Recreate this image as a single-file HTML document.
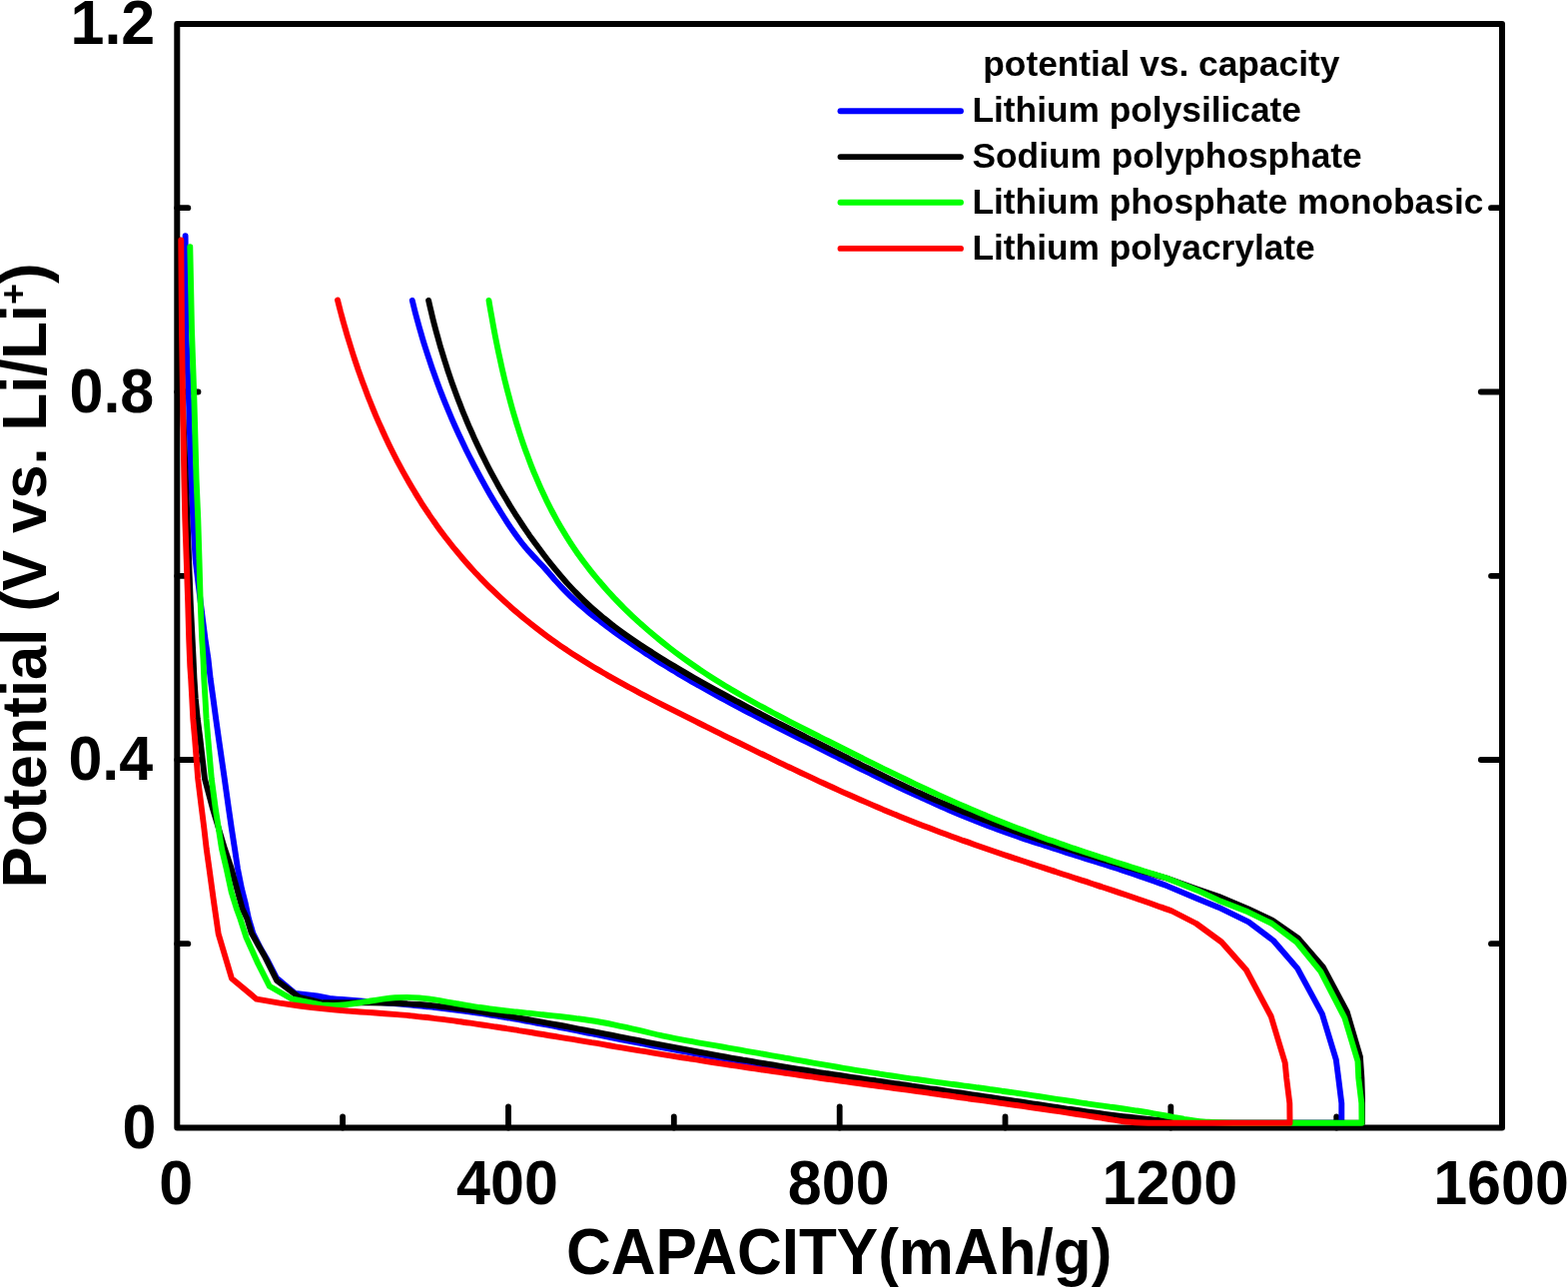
<!DOCTYPE html>
<html><head><meta charset="utf-8"><title>Potential vs capacity</title>
<style>
html,body{margin:0;padding:0;background:#fff;}
body{width:1570px;height:1290px;overflow:hidden;}
svg{display:block;}
text{font-family:"Liberation Sans",sans-serif;font-weight:bold;fill:#000;}
.tk{font-size:61px;}
.ti{font-size:62px;}
.lg{font-size:35.3px;}
</style></head>
<body>
<svg width="1570" height="1290" viewBox="0 0 1570 1290">
<rect x="0" y="0" width="1570" height="1290" fill="#fff"/>
<g stroke="#000" stroke-width="5.8" stroke-linecap="round"><line x1="509.0" y1="1129.5" x2="509.0" y2="1108.3"/><line x1="840.7" y1="1129.5" x2="840.7" y2="1108.3"/><line x1="1172.3" y1="1129.5" x2="1172.3" y2="1108.3"/><line x1="343.1" y1="1129.5" x2="343.1" y2="1118.5"/><line x1="674.8" y1="1129.5" x2="674.8" y2="1118.5"/><line x1="1006.5" y1="1129.5" x2="1006.5" y2="1118.5"/><line x1="1338.2" y1="1129.5" x2="1338.2" y2="1118.5"/><line x1="177.3" y1="761.0" x2="198.5" y2="761.0"/><line x1="1504.0" y1="761.0" x2="1482.8" y2="761.0"/><line x1="177.3" y1="392.5" x2="198.5" y2="392.5"/><line x1="1504.0" y1="392.5" x2="1482.8" y2="392.5"/><line x1="177.3" y1="945.2" x2="188.3" y2="945.2"/><line x1="1504.0" y1="945.2" x2="1493.0" y2="945.2"/><line x1="177.3" y1="576.8" x2="188.3" y2="576.8"/><line x1="1504.0" y1="576.8" x2="1493.0" y2="576.8"/><line x1="177.3" y1="208.2" x2="188.3" y2="208.2"/><line x1="1504.0" y1="208.2" x2="1493.0" y2="208.2"/></g>
<rect x="177.3" y="24.0" width="1326.7" height="1105.5" fill="none" stroke="#000" stroke-width="6" stroke-linejoin="round"/>
<g fill="none" stroke-width="5.9" stroke-linejoin="round" stroke-linecap="round">
<path d="M185.6,236.3 L186.3,330.0 L189.0,400.0 L191.3,480.0 L193.3,520.0 L195.6,560.0 L200.9,604.0 L205.5,640.0 L208.5,660.0 L210.7,680.0 L213.5,700.0 L216.2,720.0 L219.0,740.0 L224.8,780.0 L229.0,810.0 L231.9,830.0 L235.0,850.0 L238.0,870.0 L242.0,890.0 L245.8,905.0 L249.0,920.0 L253.5,935.0 L261.0,950.0 L268.0,962.0 L277.0,979.5 L295.5,995.0 L317.3,997.5 L330.0,1000.0 C330.0,1000.0 338.2,1000.7 342.2,1001.0 C346.3,1001.3 350.4,1001.7 354.5,1002.0 C358.5,1002.3 362.6,1002.6 366.7,1002.9 C370.7,1003.2 374.9,1003.5 378.9,1003.9 C383.0,1004.2 387.1,1004.5 391.1,1004.8 C395.2,1005.2 399.3,1005.5 403.4,1005.9 C407.4,1006.2 411.5,1006.6 415.6,1007.0 C419.6,1007.3 423.8,1007.7 427.8,1008.2 C431.8,1008.6 435.9,1009.0 440.0,1009.5 C444.0,1010.0 448.1,1010.5 452.1,1011.0 C456.1,1011.5 460.3,1012.0 464.3,1012.6 C468.3,1013.1 472.4,1013.7 476.4,1014.3 C480.4,1014.9 484.5,1015.5 488.5,1016.1 C492.5,1016.8 496.6,1017.4 500.6,1018.1 C504.6,1018.7 508.7,1019.4 512.7,1020.1 C516.7,1020.8 520.8,1021.5 524.8,1022.3 C528.8,1023.0 532.9,1023.7 536.8,1024.5 C540.8,1025.2 544.9,1026.0 548.9,1026.7 C552.9,1027.5 557.0,1028.3 560.9,1029.0 C564.9,1029.8 569.0,1030.6 573.0,1031.4 C577.0,1032.2 581.1,1033.0 585.0,1033.8 C589.0,1034.5 593.1,1035.4 597.1,1036.2 C601.1,1037.0 605.1,1037.8 609.1,1038.6 C613.1,1039.4 617.2,1040.2 621.2,1041.0 C625.1,1041.8 629.2,1042.6 633.2,1043.4 C637.2,1044.2 641.3,1045.0 645.3,1045.7 C649.2,1046.5 653.3,1047.3 657.3,1048.1 C661.3,1048.8 665.4,1049.6 669.4,1050.4 C673.4,1051.1 677.5,1051.9 681.4,1052.6 C685.4,1053.3 689.5,1054.1 693.5,1054.8 C697.5,1055.5 701.6,1056.3 705.6,1057.0 C709.6,1057.7 713.7,1058.4 717.7,1059.1 C721.7,1059.8 725.8,1060.5 729.8,1061.2 C733.8,1061.8 737.9,1062.5 741.9,1063.2 C745.9,1063.9 750.0,1064.5 754.0,1065.2 C758.0,1065.9 762.1,1066.5 766.1,1067.2 C770.1,1067.8 774.2,1068.5 778.2,1069.1 C782.2,1069.8 786.3,1070.4 790.3,1071.1 C794.3,1071.7 798.4,1072.3 802.4,1073.0 C806.4,1073.6 810.6,1074.2 814.6,1074.8 C818.6,1075.4 822.7,1076.1 826.7,1076.7 C830.7,1077.3 834.8,1077.9 838.8,1078.5 C842.8,1079.1 846.9,1079.8 850.9,1080.4 C855.0,1081.0 859.1,1081.6 863.1,1082.2 C867.1,1082.8 871.2,1083.4 875.2,1084.0 C879.2,1084.6 883.4,1085.2 887.4,1085.8 C891.4,1086.3 895.5,1086.9 899.5,1087.5 C903.5,1088.1 907.6,1088.7 911.6,1089.3 C915.6,1089.9 919.8,1090.5 923.8,1091.1 C927.8,1091.7 931.9,1092.3 935.9,1092.9 C939.9,1093.5 944.1,1094.1 948.1,1094.7 C952.1,1095.2 956.2,1095.9 960.2,1096.4 C964.2,1097.0 968.4,1097.6 972.4,1098.2 C976.4,1098.8 980.5,1099.4 984.5,1100.0 C988.5,1100.6 992.6,1101.2 996.6,1101.8 C1000.7,1102.4 1004.8,1103.0 1008.8,1103.6 C1012.8,1104.2 1016.9,1104.8 1020.9,1105.4 C1024.9,1106.0 1029.1,1106.6 1033.1,1107.2 C1037.1,1107.8 1041.2,1108.4 1045.2,1108.9 C1049.2,1109.5 1053.4,1110.1 1057.4,1110.6 C1061.4,1111.2 1065.5,1111.8 1069.5,1112.3 C1073.6,1112.8 1077.7,1113.4 1081.7,1113.9 C1085.7,1114.5 1089.9,1115.0 1093.9,1115.5 C1097.9,1116.0 1102.0,1116.5 1106.0,1117.0 C1110.1,1117.5 1114.2,1118.0 1118.2,1118.5 C1122.2,1118.9 1126.4,1119.4 1130.4,1119.8 C1134.4,1120.3 1138.6,1120.7 1142.6,1121.2 C1146.6,1121.6 1150.8,1122.0 1154.8,1122.4 C1158.8,1122.8 1163.0,1123.2 1167.0,1123.5 C1174.6,1124.0 1190.0,1124.8 1190.0,1124.8 L1343.3,1124.8 L1343.3,1105.0 L1340.2,1080.0 L1337.8,1061.4 L1323.9,1015.7 L1299.1,969.9 L1275.0,942.0 L1250.2,923.4 L1220.0,908.7 L1198.7,900.1 L1168.1,887.1 C1168.1,887.1 1160.5,884.3 1156.8,882.9 C1153.0,881.6 1149.1,880.2 1145.3,878.9 C1141.5,877.6 1137.6,876.3 1133.9,875.0 C1130.1,873.7 1126.1,872.4 1122.3,871.2 C1118.5,869.9 1114.6,868.7 1110.8,867.4 C1106.9,866.2 1103.0,865.0 1099.2,863.7 C1095.3,862.5 1091.4,861.3 1087.5,860.1 C1083.7,858.9 1079.7,857.6 1075.9,856.4 C1072.1,855.2 1068.1,854.0 1064.3,852.7 C1060.4,851.5 1056.5,850.3 1052.7,849.0 C1048.8,847.8 1044.9,846.5 1041.1,845.3 C1037.3,844.0 1033.3,842.7 1029.5,841.4 C1025.7,840.2 1021.8,838.8 1018.0,837.5 C1014.2,836.2 1010.3,834.8 1006.5,833.5 C1002.8,832.1 998.9,830.7 995.1,829.3 C991.4,827.9 987.5,826.4 983.8,825.0 C980.1,823.5 976.2,822.0 972.5,820.5 C968.8,819.0 965.0,817.4 961.3,815.9 C957.6,814.4 953.8,812.8 950.1,811.2 C946.5,809.6 942.7,808.0 939.0,806.4 C935.4,804.7 931.6,803.1 928.0,801.4 C924.3,799.8 920.6,798.1 916.9,796.4 C913.3,794.7 909.6,793.0 905.9,791.3 C902.3,789.6 898.6,787.9 895.0,786.1 C891.4,784.4 887.6,782.6 884.0,780.9 C880.4,779.2 876.7,777.4 873.1,775.6 C869.5,773.9 865.8,772.0 862.2,770.3 C858.6,768.5 854.9,766.7 851.3,764.9 C847.7,763.1 844.0,761.3 840.4,759.5 C836.8,757.7 833.1,755.9 829.6,754.1 C826.0,752.3 822.3,750.5 818.7,748.7 C815.1,746.9 811.4,745.0 807.8,743.2 C804.2,741.4 800.5,739.6 796.9,737.8 C793.3,736.0 789.6,734.1 786.0,732.3 C782.4,730.5 778.7,728.6 775.1,726.8 C771.6,725.0 767.9,723.1 764.3,721.3 C760.7,719.5 757.0,717.6 753.5,715.7 C749.9,713.9 746.2,711.9 742.7,710.1 C739.1,708.2 735.5,706.3 731.9,704.4 C728.4,702.5 724.7,700.5 721.2,698.6 C717.7,696.7 714.1,694.7 710.6,692.7 C707.1,690.8 703.5,688.8 700.0,686.8 C696.5,684.8 692.9,682.8 689.4,680.7 C686.0,678.7 682.4,676.6 679.0,674.6 C675.5,672.5 672.0,670.4 668.6,668.3 C665.2,666.2 661.7,664.1 658.3,661.9 C654.9,659.8 651.4,657.6 648.1,655.4 C644.7,653.2 641.3,651.0 638.0,648.7 C634.6,646.5 631.2,644.2 628.0,641.9 C624.7,639.7 621.3,637.3 618.1,635.0 C614.8,632.6 611.5,630.2 608.3,627.8 C605.0,625.4 601.8,622.9 598.6,620.5 C595.4,618.0 592.2,615.5 589.1,612.9 C586.0,610.4 582.9,607.7 579.9,605.1 C576.9,602.4 573.8,599.7 570.9,596.9 C568.0,594.1 565.1,591.2 562.4,588.3 C559.6,585.3 556.9,582.2 554.2,579.2 C551.6,576.2 548.9,573.0 546.2,570.0 C543.5,567.0 540.6,564.1 537.9,561.1 C535.2,558.2 532.3,555.3 529.6,552.3 C527.0,549.3 524.3,546.2 521.9,543.0 C519.4,539.9 517.0,536.6 514.7,533.3 C512.4,530.0 510.1,526.6 507.9,523.3 C505.7,519.9 503.5,516.4 501.4,513.0 C499.3,509.6 497.2,506.1 495.1,502.7 C493.0,499.2 490.9,495.7 488.9,492.2 C486.9,488.7 484.9,485.1 483.0,481.6 C481.0,478.1 479.1,474.5 477.2,470.9 C475.3,467.4 473.4,463.7 471.6,460.1 C469.7,456.6 467.9,452.9 466.1,449.3 C464.4,445.7 462.6,441.9 460.9,438.3 C459.2,434.7 457.5,430.9 455.8,427.2 C454.2,423.6 452.5,419.8 451.0,416.1 C449.4,412.4 447.8,408.6 446.3,404.9 C444.8,401.2 443.2,397.3 441.8,393.6 C440.3,389.8 438.9,386.0 437.5,382.2 C436.1,378.4 434.7,374.5 433.4,370.8 C432.1,367.0 430.7,363.1 429.5,359.2 C428.2,355.4 426.9,351.5 425.7,347.7 C424.5,343.9 423.3,339.9 422.2,336.1 C421.1,332.2 419.9,328.2 418.9,324.4 C417.8,320.5 416.7,316.5 415.7,312.7 C414.7,308.8 412.8,300.9 412.8,300.9" stroke="#0000ff"/>
<path d="M178.5,240.0 L180.5,330.0 L183.5,420.0 L187.5,520.0 L190.8,604.0 L193.6,660.0 L194.5,680.0 L195.8,700.0 L197.8,720.0 L200.4,740.0 L205.0,780.0 L213.0,810.0 L219.0,830.0 L225.0,850.0 L231.7,870.0 L242.6,910.0 L247.3,920.0 L251.7,934.4 L260.1,949.3 L264.7,957.2 L277.2,982.2 L299.6,998.8 L321.9,1004.2 C321.9,1004.2 330.1,1004.3 334.1,1004.3 C338.1,1004.3 342.3,1004.3 346.3,1004.3 C350.4,1004.3 354.5,1004.3 358.5,1004.3 C362.6,1004.3 366.7,1004.3 370.7,1004.4 C374.8,1004.4 378.9,1004.4 382.9,1004.5 C387.0,1004.6 391.1,1004.7 395.1,1004.8 C399.1,1004.9 403.3,1005.1 407.3,1005.3 C411.3,1005.5 415.4,1005.7 419.4,1006.0 C423.5,1006.3 427.6,1006.7 431.6,1007.0 C435.6,1007.4 439.7,1007.8 443.7,1008.3 C447.7,1008.7 451.8,1009.2 455.8,1009.7 C459.8,1010.3 463.9,1010.8 467.9,1011.4 C471.9,1011.9 476.0,1012.5 480.0,1013.1 C484.0,1013.7 488.1,1014.4 492.0,1015.0 C496.0,1015.6 500.1,1016.3 504.1,1016.9 C508.1,1017.6 512.1,1018.2 516.1,1018.9 C520.1,1019.6 524.2,1020.3 528.1,1021.0 C532.1,1021.7 536.2,1022.4 540.2,1023.1 C544.1,1023.8 548.2,1024.6 552.2,1025.3 C556.1,1026.0 560.2,1026.8 564.2,1027.5 C568.2,1028.3 572.2,1029.0 576.2,1029.8 C580.2,1030.5 584.2,1031.3 588.2,1032.1 C592.1,1032.8 596.2,1033.6 600.2,1034.4 C604.1,1035.2 608.2,1036.0 612.2,1036.7 C616.1,1037.5 620.2,1038.3 624.2,1039.1 C628.1,1039.9 632.2,1040.7 636.1,1041.4 C640.1,1042.2 644.2,1043.0 648.1,1043.8 C652.1,1044.6 656.2,1045.4 660.1,1046.1 C664.1,1046.9 668.2,1047.7 672.1,1048.4 C676.1,1049.2 680.2,1050.0 684.1,1050.7 C688.1,1051.5 692.2,1052.3 696.1,1053.0 C700.1,1053.8 704.2,1054.5 708.1,1055.2 C712.1,1056.0 716.2,1056.7 720.1,1057.4 C724.1,1058.1 728.2,1058.9 732.2,1059.6 C736.1,1060.3 740.2,1061.0 744.2,1061.7 C748.2,1062.3 752.2,1063.0 756.2,1063.7 C760.2,1064.4 764.3,1065.0 768.3,1065.7 C772.2,1066.3 776.3,1067.0 780.3,1067.7 C784.3,1068.3 788.4,1069.0 792.4,1069.6 C796.3,1070.2 800.4,1070.9 804.4,1071.5 C808.4,1072.1 812.5,1072.7 816.5,1073.3 C820.5,1074.0 824.6,1074.6 828.5,1075.2 C832.5,1075.8 836.6,1076.4 840.6,1077.0 C844.6,1077.6 848.7,1078.2 852.7,1078.8 C856.7,1079.4 860.8,1080.0 864.8,1080.6 C868.7,1081.2 872.8,1081.8 876.8,1082.3 C880.8,1082.9 884.9,1083.5 888.9,1084.1 C892.9,1084.7 897.0,1085.3 901.0,1085.8 C905.0,1086.4 909.1,1087.0 913.1,1087.6 C917.1,1088.1 921.2,1088.7 925.2,1089.3 C929.1,1089.9 933.3,1090.5 937.2,1091.0 C941.2,1091.6 945.3,1092.2 949.3,1092.8 C953.3,1093.4 957.4,1094.0 961.4,1094.5 C965.4,1095.1 969.5,1095.7 973.5,1096.3 C977.5,1096.9 981.6,1097.5 985.6,1098.1 C989.6,1098.7 993.7,1099.3 997.7,1099.9 C1001.6,1100.5 1005.7,1101.1 1009.7,1101.7 C1013.7,1102.3 1017.8,1102.9 1021.8,1103.5 C1025.8,1104.1 1029.9,1104.7 1033.9,1105.3 C1037.9,1105.9 1042.0,1106.6 1046.0,1107.2 C1049.9,1107.8 1054.0,1108.4 1058.0,1109.0 C1062.0,1109.6 1066.1,1110.2 1070.1,1110.8 C1074.1,1111.3 1078.2,1111.9 1082.2,1112.5 C1086.2,1113.1 1090.3,1113.6 1094.3,1114.2 C1098.3,1114.7 1102.4,1115.3 1106.4,1115.8 C1110.4,1116.3 1114.5,1116.9 1118.5,1117.4 C1122.5,1117.9 1126.6,1118.3 1130.6,1118.8 C1134.6,1119.3 1138.7,1119.7 1142.7,1120.2 C1146.7,1120.6 1150.8,1121.0 1154.9,1121.4 C1158.9,1121.8 1163.0,1122.0 1167.0,1122.5 C1173.0,1123.2 1185.0,1124.8 1185.0,1124.8 L1364.0,1124.8 L1364.0,1100.0 L1363.4,1080.0 L1361.9,1058.3 L1348.7,1013.3 L1324.7,968.4 L1299.8,939.7 L1274.3,921.9 L1249.5,910.2 L1220.0,897.8 L1198.7,890.5 L1168.1,879.5 C1168.1,879.5 1160.2,877.3 1156.3,876.2 C1152.4,875.1 1148.4,873.9 1144.5,872.8 C1140.6,871.7 1136.6,870.6 1132.7,869.4 C1128.8,868.3 1124.8,867.2 1120.9,866.0 C1117.0,864.9 1113.0,863.7 1109.2,862.5 C1105.3,861.4 1101.3,860.2 1097.4,859.0 C1093.5,857.8 1089.5,856.6 1085.7,855.4 C1081.8,854.2 1077.8,853.0 1073.9,851.8 C1070.1,850.6 1066.1,849.3 1062.3,848.1 C1058.4,846.8 1054.4,845.5 1050.6,844.3 C1046.7,843.0 1042.8,841.7 1038.9,840.4 C1035.1,839.1 1031.2,837.8 1027.3,836.4 C1023.5,835.1 1019.6,833.7 1015.8,832.4 C1012.0,831.0 1008.0,829.6 1004.2,828.2 C1000.4,826.9 996.5,825.4 992.7,824.0 C988.9,822.6 985.1,821.1 981.3,819.6 C977.5,818.2 973.6,816.6 969.9,815.1 C966.1,813.6 962.2,812.1 958.5,810.5 C954.8,809.0 950.9,807.4 947.2,805.8 C943.5,804.2 939.6,802.6 935.9,801.0 C932.2,799.4 928.4,797.7 924.7,796.0 C921.0,794.3 917.2,792.6 913.6,790.9 C909.9,789.2 906.1,787.4 902.5,785.6 C898.8,783.9 895.0,782.1 891.4,780.3 C887.7,778.5 884.0,776.7 880.4,774.9 C876.7,773.1 873.0,771.3 869.4,769.5 C865.7,767.7 862.0,765.8 858.4,764.0 C854.7,762.2 851.0,760.3 847.4,758.5 C843.8,756.7 840.1,754.8 836.4,753.0 C832.8,751.2 829.1,749.3 825.5,747.5 C821.9,745.7 818.2,743.8 814.6,742.0 C810.9,740.2 807.2,738.3 803.6,736.5 C800.0,734.7 796.3,732.8 792.7,731.0 C789.1,729.1 785.4,727.2 781.8,725.4 C778.2,723.6 774.5,721.6 770.9,719.8 C767.3,717.9 763.6,716.0 760.0,714.2 C756.4,712.3 752.7,710.4 749.2,708.5 C745.6,706.6 741.9,704.6 738.3,702.7 C734.7,700.8 731.0,698.9 727.5,696.9 C723.9,695.0 720.2,693.0 716.7,691.1 C713.1,689.1 709.5,687.1 705.9,685.1 C702.4,683.1 698.8,681.1 695.2,679.1 C691.7,677.1 688.1,675.0 684.6,672.9 C681.1,670.9 677.5,668.7 674.1,666.6 C670.6,664.6 667.0,662.4 663.6,660.2 C660.1,658.1 656.6,655.9 653.2,653.7 C649.8,651.5 646.3,649.3 642.9,647.0 C639.6,644.8 636.1,642.5 632.8,640.2 C629.5,637.9 626.1,635.5 622.8,633.1 C619.5,630.7 616.2,628.2 613.0,625.8 C609.8,623.3 606.6,620.7 603.5,618.2 C600.3,615.6 597.2,612.9 594.2,610.3 C591.1,607.6 588.1,604.8 585.1,602.0 C582.2,599.2 579.3,596.3 576.5,593.4 C573.6,590.5 570.8,587.4 568.1,584.4 C565.4,581.4 562.7,578.2 560.1,575.1 C557.4,572.0 554.8,568.8 552.2,565.6 C549.7,562.5 547.1,559.2 544.7,556.0 C542.2,552.8 539.7,549.4 537.3,546.1 C534.9,542.9 532.5,539.5 530.1,536.2 C527.8,532.8 525.5,529.4 523.2,526.0 C521.0,522.7 518.7,519.2 516.5,515.8 C514.3,512.4 512.1,508.8 510.0,505.4 C507.9,501.9 505.8,498.3 503.7,494.8 C501.7,491.3 499.6,487.7 497.7,484.1 C495.7,480.6 493.7,476.9 491.8,473.4 C489.9,469.8 488.0,466.1 486.2,462.5 C484.4,458.8 482.5,455.1 480.8,451.4 C479.0,447.8 477.2,444.0 475.5,440.3 C473.9,436.6 472.2,432.8 470.5,429.1 C468.9,425.4 467.3,421.6 465.8,417.8 C464.2,414.1 462.6,410.2 461.2,406.4 C459.7,402.6 458.2,398.7 456.8,394.9 C455.4,391.1 454.0,387.2 452.6,383.4 C451.3,379.6 449.9,375.6 448.6,371.8 C447.4,367.9 446.1,364.0 444.9,360.1 C443.7,356.2 442.5,352.2 441.3,348.4 C440.2,344.5 439.0,340.5 438.0,336.6 C436.9,332.7 435.8,328.6 434.8,324.7 C433.8,320.8 432.8,316.8 431.9,312.8 C430.9,308.9 429.1,300.9 429.1,300.9" stroke="#000000"/>
<path d="M190.3,247.1 L191.2,290.0 L192.0,330.0 L194.4,400.0 L196.6,480.0 L198.3,520.0 L199.5,560.0 L200.7,604.0 L202.2,640.0 L203.5,660.0 L204.3,680.0 L205.5,700.0 L206.6,720.0 L208.3,740.0 L211.8,780.0 L215.8,810.0 L218.9,830.0 L222.0,850.0 L226.7,870.0 L231.7,893.5 L236.8,910.0 L240.5,920.0 L246.6,939.1 L257.5,963.3 L269.9,987.8 L292.1,1000.5 L321.9,1006.5 C321.9,1006.5 330.1,1007.0 334.1,1006.9 C338.2,1006.8 342.3,1006.5 346.4,1006.1 C350.4,1005.7 354.6,1005.1 358.6,1004.5 C362.7,1003.9 366.9,1003.1 370.9,1002.5 C375.0,1001.9 379.1,1001.2 383.2,1000.6 C387.2,1000.1 391.4,999.6 395.5,999.3 C399.5,999.0 403.6,998.9 407.7,998.9 C411.7,998.9 415.8,999.2 419.9,999.5 C423.9,999.8 428.0,1000.4 432.0,1000.9 C436.0,1001.4 440.1,1002.1 444.1,1002.8 C448.2,1003.5 452.3,1004.2 456.3,1005.0 C460.3,1005.7 464.4,1006.4 468.5,1007.1 C472.5,1007.8 476.6,1008.4 480.6,1009.0 C484.7,1009.6 488.8,1010.2 492.9,1010.7 C496.9,1011.2 501.1,1011.7 505.1,1012.2 C509.1,1012.7 513.3,1013.1 517.3,1013.5 C521.4,1014.0 525.6,1014.4 529.6,1014.8 C533.6,1015.2 537.8,1015.7 541.9,1016.1 C545.9,1016.5 550.1,1016.9 554.1,1017.4 C558.1,1017.8 562.3,1018.3 566.3,1018.7 C570.3,1019.2 574.5,1019.7 578.5,1020.3 C582.5,1020.8 586.7,1021.4 590.7,1022.0 C594.7,1022.6 598.8,1023.3 602.8,1024.0 C606.8,1024.7 610.9,1025.5 614.8,1026.3 C618.8,1027.1 622.9,1028.0 626.9,1028.9 C630.8,1029.8 634.9,1030.8 638.8,1031.7 C642.8,1032.6 646.9,1033.6 650.8,1034.5 C654.8,1035.5 658.9,1036.4 662.9,1037.3 C666.8,1038.1 670.9,1039.0 674.9,1039.8 C678.9,1040.6 683.0,1041.4 687.0,1042.1 C691.0,1042.8 695.1,1043.6 699.1,1044.3 C703.1,1045.0 707.2,1045.7 711.2,1046.4 C715.2,1047.1 719.4,1047.8 723.4,1048.5 C727.4,1049.2 731.5,1049.9 735.5,1050.6 C739.5,1051.3 743.6,1052.1 747.6,1052.8 C751.6,1053.5 755.8,1054.2 759.8,1054.9 C763.8,1055.6 767.9,1056.4 771.9,1057.1 C775.9,1057.8 780.0,1058.5 784.0,1059.2 C788.0,1060.0 792.1,1060.7 796.1,1061.4 C800.1,1062.1 804.3,1062.8 808.3,1063.5 C812.3,1064.2 816.4,1064.9 820.4,1065.6 C824.4,1066.3 828.5,1067.0 832.5,1067.7 C836.5,1068.4 840.7,1069.1 844.7,1069.8 C848.7,1070.4 852.8,1071.1 856.8,1071.8 C860.8,1072.4 864.9,1073.1 869.0,1073.7 C873.0,1074.4 877.1,1075.0 881.1,1075.7 C885.1,1076.3 889.3,1076.9 893.3,1077.5 C897.3,1078.1 901.5,1078.7 905.5,1079.3 C909.5,1079.9 913.6,1080.5 917.7,1081.0 C921.7,1081.6 925.8,1082.2 929.9,1082.7 C933.9,1083.3 938.0,1083.8 942.1,1084.4 C946.1,1084.9 950.2,1085.5 954.3,1086.0 C958.3,1086.6 962.5,1087.1 966.5,1087.6 C970.5,1088.2 974.7,1088.7 978.7,1089.3 C982.7,1089.8 986.9,1090.4 990.9,1091.0 C994.9,1091.5 999.1,1092.1 1003.1,1092.7 C1007.1,1093.2 1011.3,1093.8 1015.3,1094.4 C1019.3,1095.0 1023.4,1095.6 1027.5,1096.2 C1031.5,1096.8 1035.6,1097.4 1039.6,1098.0 C1043.6,1098.6 1047.8,1099.3 1051.8,1099.9 C1055.8,1100.5 1060.0,1101.1 1064.0,1101.7 C1068.0,1102.3 1072.1,1102.9 1076.2,1103.5 C1080.2,1104.1 1084.3,1104.8 1088.3,1105.3 C1092.4,1105.9 1096.5,1106.5 1100.5,1107.1 C1104.6,1107.7 1108.7,1108.2 1112.7,1108.8 C1116.8,1109.3 1120.9,1109.9 1124.9,1110.5 C1128.9,1111.1 1133.1,1111.7 1137.1,1112.3 C1141.1,1112.9 1145.2,1113.5 1149.3,1114.2 C1153.3,1114.9 1157.4,1115.7 1161.4,1116.4 C1165.4,1117.1 1169.5,1117.9 1173.5,1118.6 C1177.5,1119.4 1181.6,1120.1 1185.6,1120.8 C1189.6,1121.4 1193.7,1122.1 1197.7,1122.6 C1201.8,1123.1 1205.9,1123.6 1210.0,1123.8 C1218.2,1124.3 1235.0,1124.8 1235.0,1124.8 L1363.5,1124.8 L1363.3,1105.0 L1360.3,1080.0 L1359.5,1063.0 L1346.4,1019.5 L1322.3,973.0 L1298.3,943.6 L1273.5,925.0 L1249.5,913.3 L1220.0,901.7 L1198.7,891.7 L1168.1,879.5 C1168.1,879.5 1160.3,877.1 1156.4,875.8 C1152.6,874.6 1148.6,873.4 1144.8,872.2 C1140.9,871.0 1136.9,869.7 1133.1,868.5 C1129.2,867.3 1125.3,866.0 1121.4,864.8 C1117.6,863.6 1113.6,862.3 1109.8,861.1 C1105.9,859.9 1102.0,858.6 1098.1,857.3 C1094.3,856.1 1090.3,854.8 1086.5,853.5 C1082.7,852.2 1078.7,850.9 1074.9,849.6 C1071.1,848.3 1067.1,847.0 1063.3,845.6 C1059.5,844.3 1055.6,843.0 1051.8,841.6 C1048.0,840.3 1044.0,838.8 1040.3,837.5 C1036.5,836.1 1032.6,834.6 1028.8,833.2 C1025.0,831.8 1021.1,830.3 1017.4,828.9 C1013.6,827.4 1009.7,825.9 1006.0,824.4 C1002.2,822.9 998.4,821.4 994.7,819.9 C990.9,818.3 987.1,816.7 983.4,815.2 C979.6,813.6 975.8,812.0 972.1,810.4 C968.4,808.8 964.6,807.2 960.9,805.6 C957.2,804.0 953.4,802.3 949.7,800.6 C946.1,799.0 942.3,797.3 938.6,795.6 C935.0,793.9 931.2,792.2 927.5,790.5 C923.9,788.8 920.1,787.0 916.5,785.3 C912.8,783.6 909.1,781.8 905.5,780.0 C901.8,778.3 898.1,776.5 894.5,774.7 C890.8,773.0 887.1,771.1 883.5,769.4 C879.9,767.6 876.1,765.7 872.5,763.9 C868.9,762.2 865.2,760.3 861.6,758.5 C858.0,756.7 854.2,754.8 850.6,753.0 C847.0,751.2 843.3,749.3 839.7,747.5 C836.1,745.7 832.4,743.8 828.8,742.0 C825.1,740.2 821.4,738.3 817.8,736.5 C814.2,734.7 810.5,732.8 806.9,731.0 C803.3,729.1 799.5,727.2 795.9,725.4 C792.3,723.5 788.6,721.6 785.0,719.7 C781.5,717.9 777.8,715.9 774.2,714.0 C770.6,712.1 767.0,710.2 763.4,708.2 C759.8,706.3 756.2,704.3 752.7,702.3 C749.1,700.3 745.5,698.3 742.0,696.3 C738.5,694.2 734.9,692.1 731.4,690.1 C728.0,688.0 724.4,685.8 721.0,683.7 C717.5,681.6 714.0,679.4 710.6,677.2 C707.2,675.0 703.8,672.7 700.4,670.5 C697.1,668.2 693.6,665.8 690.3,663.5 C687.0,661.2 683.6,658.8 680.4,656.4 C677.1,654.0 673.8,651.5 670.6,649.0 C667.4,646.5 664.1,643.9 661.0,641.4 C657.9,638.9 654.7,636.2 651.6,633.6 C648.5,631.0 645.4,628.2 642.4,625.5 C639.4,622.9 636.3,620.0 633.4,617.3 C630.5,614.5 627.5,611.6 624.6,608.8 C621.8,606.0 618.9,603.0 616.1,600.1 C613.4,597.2 610.5,594.1 607.9,591.2 C605.2,588.2 602.5,585.1 599.9,582.0 C597.3,578.9 594.6,575.8 592.1,572.6 C589.7,569.5 587.1,566.2 584.7,563.0 C582.3,559.8 579.9,556.4 577.6,553.2 C575.3,549.9 573.0,546.4 570.8,543.1 C568.6,539.7 566.4,536.2 564.4,532.8 C562.3,529.3 560.2,525.7 558.2,522.2 C556.3,518.7 554.3,515.1 552.4,511.5 C550.6,507.9 548.7,504.2 546.9,500.6 C545.2,496.9 543.4,493.2 541.7,489.5 C540.0,485.8 538.4,482.0 536.8,478.2 C535.2,474.5 533.6,470.6 532.1,466.8 C530.6,463.0 529.2,459.1 527.8,455.3 C526.3,451.5 524.9,447.5 523.6,443.7 C522.3,439.8 521.0,435.8 519.7,431.9 C518.5,428.0 517.2,424.0 516.1,420.1 C514.9,416.2 513.7,412.2 512.6,408.2 C511.5,404.3 510.4,400.2 509.4,396.3 C508.3,392.4 507.3,388.3 506.3,384.3 C505.3,380.4 504.4,376.3 503.4,372.3 C502.5,368.4 501.6,364.3 500.8,360.4 C499.9,356.4 499.0,352.3 498.2,348.4 C497.4,344.4 496.6,340.4 495.8,336.4 C495.1,332.5 494.3,328.5 493.6,324.5 C492.9,320.6 492.2,316.6 491.5,312.7 C490.8,308.8 489.5,300.9 489.5,300.9" stroke="#00ff00"/>
<path d="M181.3,240.5 L182.0,330.0 L183.0,400.0 L184.4,480.0 L185.3,520.0 L186.7,560.0 L188.2,604.0 L189.2,640.0 L190.3,667.0 L191.2,680.0 L192.3,700.0 L193.3,720.0 L195.1,740.0 L198.2,780.0 L201.9,810.0 L204.4,830.0 L206.7,850.0 L209.5,870.0 L213.6,900.0 L218.7,935.3 L232.0,980.0 L256.9,1000.7 L280.0,1004.6 L300.0,1007.5 L312.2,1009.1 L324.3,1010.4 C324.3,1010.4 332.5,1011.2 336.6,1011.6 C340.6,1011.9 344.7,1012.3 348.8,1012.6 C352.8,1012.9 357.0,1013.2 361.0,1013.5 C365.1,1013.8 369.2,1014.0 373.3,1014.3 C377.3,1014.6 381.5,1014.9 385.5,1015.2 C389.6,1015.5 393.7,1015.8 397.8,1016.1 C401.8,1016.5 406.0,1016.8 410.0,1017.2 C414.0,1017.6 418.2,1018.0 422.2,1018.5 C426.2,1018.9 430.4,1019.4 434.4,1019.9 C438.4,1020.3 442.6,1020.9 446.6,1021.4 C450.6,1021.9 454.8,1022.4 458.8,1023.0 C462.8,1023.5 466.9,1024.1 471.0,1024.7 C475.0,1025.3 479.1,1025.9 483.1,1026.5 C487.1,1027.1 491.3,1027.7 495.3,1028.3 C499.3,1028.9 503.4,1029.5 507.4,1030.2 C511.4,1030.8 515.5,1031.4 519.5,1032.1 C523.6,1032.7 527.7,1033.4 531.7,1034.0 C535.7,1034.7 539.8,1035.4 543.8,1036.0 C547.8,1036.7 551.9,1037.4 555.9,1038.0 C559.9,1038.7 564.1,1039.4 568.1,1040.1 C572.1,1040.7 576.2,1041.4 580.2,1042.1 C584.2,1042.8 588.3,1043.5 592.3,1044.2 C596.3,1044.8 600.4,1045.5 604.4,1046.2 C608.4,1046.9 612.5,1047.6 616.5,1048.3 C620.5,1049.0 624.7,1049.7 628.7,1050.3 C632.7,1051.0 636.8,1051.7 640.8,1052.4 C644.8,1053.0 648.9,1053.7 652.9,1054.4 C656.9,1055.0 661.0,1055.7 665.0,1056.3 C669.0,1057.0 673.2,1057.7 677.2,1058.3 C681.2,1058.9 685.3,1059.6 689.3,1060.2 C693.3,1060.9 697.4,1061.5 701.5,1062.1 C705.5,1062.7 709.6,1063.4 713.6,1064.0 C717.6,1064.6 721.7,1065.2 725.8,1065.8 C729.8,1066.4 733.9,1067.1 737.9,1067.7 C741.9,1068.3 746.0,1068.9 750.1,1069.5 C754.1,1070.1 758.2,1070.7 762.2,1071.3 C766.2,1071.8 770.4,1072.4 774.4,1073.0 C778.4,1073.6 782.5,1074.2 786.5,1074.8 C790.6,1075.4 794.7,1075.9 798.7,1076.5 C802.7,1077.1 806.9,1077.7 810.9,1078.2 C814.9,1078.8 819.0,1079.4 823.0,1080.0 C827.1,1080.5 831.2,1081.1 835.2,1081.7 C839.2,1082.2 843.4,1082.8 847.4,1083.3 C851.4,1083.9 855.6,1084.5 859.6,1085.0 C863.6,1085.6 867.7,1086.2 871.7,1086.7 C875.8,1087.3 879.9,1087.8 883.9,1088.4 C887.9,1088.9 892.1,1089.5 896.1,1090.1 C900.1,1090.6 904.3,1091.2 908.3,1091.7 C912.3,1092.3 916.4,1092.9 920.4,1093.4 C924.5,1094.0 928.6,1094.5 932.6,1095.1 C936.6,1095.6 940.8,1096.2 944.8,1096.8 C948.8,1097.3 953.0,1097.9 957.0,1098.5 C961.0,1099.0 965.1,1099.6 969.1,1100.2 C973.2,1100.7 977.3,1101.3 981.3,1101.9 C985.3,1102.4 989.5,1103.0 993.5,1103.6 C997.5,1104.1 1001.6,1104.7 1005.7,1105.3 C1009.7,1105.9 1013.8,1106.5 1017.8,1107.0 C1021.8,1107.6 1026.0,1108.2 1030.0,1108.8 C1034.0,1109.4 1038.1,1110.0 1042.1,1110.5 C1046.2,1111.1 1050.3,1111.7 1054.3,1112.3 C1058.3,1112.9 1062.5,1113.5 1066.5,1114.1 C1070.5,1114.7 1074.6,1115.4 1078.6,1116.0 C1082.6,1116.6 1086.8,1117.2 1090.8,1117.8 C1094.8,1118.4 1098.9,1119.1 1102.9,1119.7 C1106.9,1120.3 1111.1,1120.9 1115.1,1121.6 C1119.1,1122.2 1123.2,1123.1 1127.2,1123.5 C1134.7,1124.2 1150.0,1124.8 1150.0,1124.8 L1291.5,1124.8 L1291.3,1105.0 L1288.2,1080.0 L1286.7,1064.5 L1272.7,1018.0 L1247.9,971.5 L1223.1,943.5 L1197.8,925.0 L1173.5,912.5 C1173.5,912.5 1165.8,909.7 1162.0,908.4 C1158.2,907.0 1154.3,905.6 1150.5,904.3 C1146.6,902.9 1142.7,901.6 1138.9,900.3 C1135.1,899.0 1131.1,897.6 1127.3,896.3 C1123.5,895.0 1119.5,893.7 1115.7,892.4 C1111.8,891.1 1107.9,889.8 1104.0,888.5 C1100.2,887.3 1096.2,885.9 1092.4,884.7 C1088.5,883.4 1084.6,882.1 1080.7,880.9 C1076.9,879.6 1072.9,878.3 1069.1,877.0 C1065.2,875.8 1061.2,874.5 1057.4,873.2 C1053.5,872.0 1049.6,870.7 1045.7,869.4 C1041.9,868.2 1037.9,866.9 1034.0,865.6 C1030.2,864.3 1026.2,863.0 1022.4,861.8 C1018.5,860.5 1014.6,859.2 1010.7,857.9 C1006.9,856.6 1002.9,855.3 999.1,854.0 C995.3,852.7 991.3,851.3 987.5,850.0 C983.7,848.7 979.7,847.3 975.9,846.0 C972.1,844.6 968.2,843.2 964.3,841.9 C960.5,840.5 956.6,839.1 952.8,837.7 C949.0,836.3 945.1,834.9 941.3,833.5 C937.5,832.1 933.6,830.6 929.9,829.1 C926.1,827.7 922.2,826.2 918.4,824.7 C914.7,823.2 910.8,821.7 907.1,820.2 C903.3,818.7 899.5,817.1 895.7,815.6 C892.0,814.0 888.2,812.4 884.4,810.9 C880.7,809.3 876.9,807.7 873.2,806.1 C869.5,804.5 865.6,802.8 861.9,801.2 C858.2,799.6 854.4,797.9 850.7,796.3 C847.0,794.7 843.2,793.0 839.6,791.3 C835.9,789.6 832.1,787.9 828.4,786.2 C824.7,784.5 820.9,782.8 817.3,781.1 C813.6,779.4 809.8,777.6 806.2,775.9 C802.5,774.2 798.7,772.4 795.1,770.7 C791.4,769.0 787.7,767.2 784.0,765.4 C780.4,763.7 776.6,761.9 773.0,760.1 C769.3,758.4 765.6,756.5 761.9,754.8 C758.3,753.0 754.5,751.2 750.9,749.4 C747.2,747.6 743.5,745.8 739.9,744.0 C736.2,742.2 732.5,740.4 728.8,738.6 C725.2,736.8 721.5,734.9 717.8,733.1 C714.2,731.3 710.5,729.5 706.8,727.7 C703.2,725.8 699.4,724.0 695.8,722.2 C692.2,720.4 688.4,718.5 684.8,716.7 C681.2,714.9 677.4,713.0 673.8,711.2 C670.2,709.4 666.5,707.5 662.8,705.6 C659.2,703.8 655.5,701.9 651.9,700.0 C648.3,698.1 644.6,696.2 641.0,694.3 C637.5,692.4 633.8,690.4 630.2,688.5 C626.7,686.6 623.0,684.6 619.5,682.6 C615.9,680.6 612.3,678.6 608.8,676.6 C605.3,674.5 601.7,672.5 598.2,670.4 C594.7,668.3 591.2,666.2 587.7,664.0 C584.3,661.9 580.8,659.7 577.4,657.5 C574.0,655.4 570.5,653.1 567.2,650.8 C563.8,648.6 560.4,646.2 557.1,643.9 C553.8,641.6 550.4,639.2 547.2,636.8 C543.9,634.4 540.6,631.9 537.4,629.4 C534.2,626.9 530.9,624.4 527.8,621.8 C524.6,619.3 521.4,616.6 518.4,614.0 C515.3,611.4 512.1,608.6 509.1,605.9 C506.1,603.3 503.0,600.4 500.1,597.7 C497.1,594.9 494.1,592.0 491.2,589.2 C488.3,586.4 485.4,583.4 482.6,580.5 C479.8,577.6 476.9,574.6 474.2,571.6 C471.5,568.7 468.7,565.6 466.0,562.5 C463.3,559.5 460.6,556.3 458.1,553.2 C455.5,550.1 452.9,546.9 450.4,543.7 C447.9,540.5 445.3,537.2 442.9,534.0 C440.5,530.8 438.1,527.4 435.7,524.1 C433.4,520.8 431.0,517.4 428.8,514.0 C426.5,510.7 424.2,507.2 422.0,503.8 C419.9,500.4 417.7,496.8 415.6,493.4 C413.5,489.9 411.3,486.3 409.3,482.8 C407.3,479.3 405.3,475.7 403.3,472.1 C401.4,468.6 399.4,464.9 397.5,461.3 C395.6,457.7 393.7,453.9 391.9,450.3 C390.1,446.7 388.3,442.9 386.6,439.2 C384.9,435.6 383.1,431.8 381.5,428.0 C379.8,424.3 378.1,420.5 376.5,416.8 C374.9,413.0 373.3,409.2 371.8,405.4 C370.3,401.6 368.7,397.7 367.3,393.9 C365.8,390.1 364.4,386.2 363.0,382.4 C361.6,378.6 360.2,374.7 358.8,370.8 C357.5,367.0 356.2,363.0 354.9,359.2 C353.6,355.3 352.4,351.4 351.2,347.5 C350.0,343.6 348.8,339.7 347.6,335.8 C346.5,331.9 345.3,327.9 344.2,324.0 C343.1,320.2 342.1,316.2 341.0,312.3 C340.0,308.4 338.0,300.5 338.0,300.5" stroke="#ff0000"/>
</g>
<g class="tk"><text transform="translate(155.3,44.4) scale(1,1.04)" text-anchor="end">1.2</text><text transform="translate(154.3,412.9) scale(1,1.04)" text-anchor="end">0.8</text><text transform="translate(153.2,781.4) scale(1,1.04)" text-anchor="end">0.4</text><text transform="translate(156.3,1149.9) scale(1,1.04)" text-anchor="end">0</text><text transform="translate(176.3,1206.2) scale(1,1.04)" text-anchor="middle">0</text><text transform="translate(508.0,1206.2) scale(1,1.04)" text-anchor="middle">400</text><text transform="translate(839.7,1206.2) scale(1,1.04)" text-anchor="middle">800</text><text transform="translate(1171.3,1206.2) scale(1,1.04)" text-anchor="middle">1200</text><text transform="translate(1503.0,1206.2) scale(1,1.04)" text-anchor="middle">1600</text></g>
<text class="ti" transform="translate(566.9,1276.2) scale(1,1.04)">CAPACITY(mAh/g)</text>
<text class="ti" style="font-size:61.5px" transform="translate(45.6,889.3) rotate(-90) scale(1,1.015)">Potential (V vs. Li/Li<tspan font-size="36" dy="-19">+</tspan><tspan dy="19">)</tspan></text>
<text transform="translate(984.3,76.3)" class="lg">potential vs. capacity</text>
<line x1="841.5" y1="111.3" x2="962" y2="111.3" stroke="#0000ff" stroke-width="5.9" stroke-linecap="round"/><text transform="translate(973.5,122.3)" class="lg">Lithium polysilicate</text>
<line x1="841.5" y1="157.1" x2="962" y2="157.1" stroke="#000000" stroke-width="5.9" stroke-linecap="round"/><text transform="translate(973.5,168.2)" class="lg">Sodium polyphosphate</text>
<line x1="841.5" y1="202.8" x2="962" y2="202.8" stroke="#00ff00" stroke-width="5.9" stroke-linecap="round"/><text transform="translate(973.5,214.1)" class="lg">Lithium phosphate monobasic</text>
<line x1="841.5" y1="248.9" x2="962" y2="248.9" stroke="#ff0000" stroke-width="5.9" stroke-linecap="round"/><text transform="translate(973.5,259.9)" class="lg">Lithium polyacrylate</text>

</svg>
</body></html>
